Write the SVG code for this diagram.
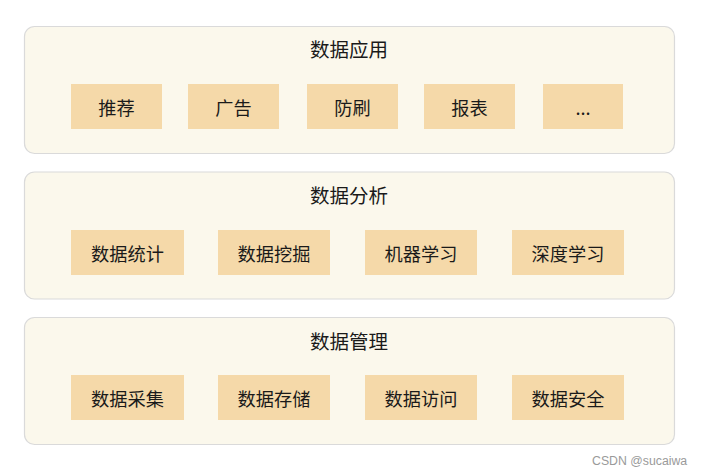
<svg xmlns="http://www.w3.org/2000/svg" width="701" height="476" viewBox="0 0 701 476">
<style>
.panel{fill:#fbf8ec;stroke:#dadada;stroke-width:1.2}
.box{fill:#f5d9a9}
.title{font-family:"Noto Sans CJK SC","Noto Sans",sans-serif;font-size:19.5px;fill:#1a1a1a;text-anchor:middle}
.lbl{font-family:"Noto Sans CJK SC","Noto Sans",sans-serif;font-size:18.2px;fill:#1a1a1a;text-anchor:middle;dominant-baseline:central}
.wm{font-family:"Liberation Sans",Arial,sans-serif;font-size:12.3px;fill:#9a9a9a}
</style>
<rect width="701" height="476" fill="#ffffff"/>
<g id="layer-app">
<rect class="panel" x="24.5" y="26.5" width="650" height="127" rx="10"/>
<text class="title" x="349" y="57">数据应用</text>
</g>
<g id="app-1"><rect class="box" x="71" y="84" width="91" height="45"/><text class="lbl" x="116.5" y="106.5">推荐</text></g>
<g id="app-2"><rect class="box" x="188" y="84" width="91" height="45"/><text class="lbl" x="233.5" y="106.5">广告</text></g>
<g id="app-3"><rect class="box" x="307" y="84" width="91" height="45"/><text class="lbl" x="352.5" y="106.5">防刷</text></g>
<g id="app-4"><rect class="box" x="424" y="84" width="91" height="45"/><text class="lbl" x="469.5" y="106.5">报表</text></g>
<g id="app-5"><rect class="box" x="543" y="84" width="80" height="45"/><text class="lbl" x="583" y="106.5">...</text></g>

<g id="layer-analysis">
<rect class="panel" x="24.5" y="172" width="650" height="127" rx="10"/>
<text class="title" x="349" y="203">数据分析</text>
</g>
<g id="ana-1"><rect class="box" x="71" y="230" width="113" height="45"/><text class="lbl" x="127.5" y="252.5">数据统计</text></g>
<g id="ana-2"><rect class="box" x="218" y="230" width="112" height="45"/><text class="lbl" x="274" y="252.5">数据挖掘</text></g>
<g id="ana-3"><rect class="box" x="365" y="230" width="112" height="45"/><text class="lbl" x="421" y="252.5">机器学习</text></g>
<g id="ana-4"><rect class="box" x="512" y="230" width="112" height="45"/><text class="lbl" x="568" y="252.5">深度学习</text></g>

<g id="layer-mgmt">
<rect class="panel" x="24.5" y="317.5" width="650" height="127" rx="10"/>
<text class="title" x="349" y="348.5">数据管理</text>
</g>
<g id="mgmt-1"><rect class="box" x="71" y="375" width="113" height="45"/><text class="lbl" x="127.5" y="397.5">数据采集</text></g>
<g id="mgmt-2"><rect class="box" x="218" y="375" width="112" height="45"/><text class="lbl" x="274" y="397.5">数据存储</text></g>
<g id="mgmt-3"><rect class="box" x="365" y="375" width="112" height="45"/><text class="lbl" x="421" y="397.5">数据访问</text></g>
<g id="mgmt-4"><rect class="box" x="512" y="375" width="112" height="45"/><text class="lbl" x="568" y="397.5">数据安全</text></g>

<g id="connectors"></g>
<text class="wm" x="592" y="465">CSDN @sucaiwa</text>
</svg>
